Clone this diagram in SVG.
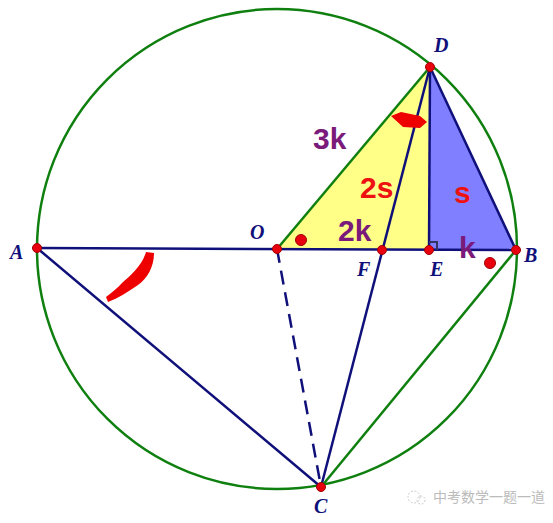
<svg xmlns="http://www.w3.org/2000/svg" width="553" height="523" viewBox="0 0 553 523">
<style>
.nv{stroke:#10107a;stroke-width:2.5;fill:none}
.gr{stroke:#0f800f;stroke-width:2.5;fill:none}
.pt{fill:#e8000e;stroke:#a00000;stroke-width:1}
.lbl{font-family:"Liberation Serif",serif;font-style:italic;font-weight:bold;font-size:20px;fill:#10107a}
.pk{font-family:"Liberation Sans",sans-serif;font-weight:bold;font-size:30px;fill:#7a1a7a}
.rs{font-family:"Liberation Sans",sans-serif;font-weight:bold;font-size:30px;fill:#ee1111}
</style>
<rect width="553" height="523" fill="#ffffff"/>
<g id="fills">
<polygon points="277,249 430,67 429,250" fill="#ffff88"/>
<polygon points="430,67 429,250 516,250" fill="#7f7fff"/>
</g>
<g id="circle"><circle cx="277" cy="249" r="240" class="gr"/></g>
<g id="connectors">
<line x1="37" y1="248" x2="516" y2="250" class="nv"/>
<line x1="277" y1="249" x2="430" y2="67" class="gr"/>
<line x1="430" y1="67" x2="516" y2="250" class="nv"/>
<line x1="430" y1="67" x2="429" y2="250" class="nv"/>
<line x1="430" y1="67" x2="321" y2="487" class="nv"/>
<line x1="37" y1="248" x2="321" y2="487" class="nv"/>
<line x1="277" y1="249" x2="321" y2="487" class="nv" stroke-dasharray="14,8"/>
<line x1="516" y1="250" x2="321" y2="487" class="gr"/>
<polyline points="429,242 437,242 437,250" stroke="#333366" stroke-width="2" fill="none"/>
</g>
<g id="marks">
<circle cx="301" cy="240" r="5.5" class="pt"/>
<circle cx="490" cy="263" r="5.5" class="pt"/>
<path d="M391,116 L401,112 L420,116 L427,122 L420,128 L403,127 Z" fill="#ee0000"/>
<path d="M146,252 L154,253 C154,266 148,278 138,285 C128,292 118,298 108,302 L106,297 C112,292 118,288 122,283 C130,276 142,266 146,252 Z" fill="#ee0000"/>
</g>
<g id="A"><circle cx="37" cy="248" r="4.5" class="pt"/><text x="10" y="259" class="lbl">A</text></g>
<g id="B"><circle cx="516" cy="250" r="4.5" class="pt"/><text x="524" y="262" class="lbl">B</text></g>
<g id="O"><circle cx="277" cy="249" r="4.5" class="pt"/><text x="250" y="239" class="lbl">O</text></g>
<g id="D"><circle cx="430" cy="67" r="4.5" class="pt"/><text x="434" y="52" class="lbl">D</text></g>
<g id="E"><circle cx="429" cy="250" r="4.5" class="pt"/><text x="430" y="276" class="lbl">E</text></g>
<g id="F"><circle cx="382" cy="250" r="4.5" class="pt"/><text x="357" y="276" class="lbl">F</text></g>
<g id="C"><circle cx="321" cy="487" r="4.5" class="pt"/><text x="314" y="513" class="lbl">C</text></g>
<g id="labels">
<text x="313" y="149" class="pk">3k</text>
<text x="360" y="198" class="rs">2s</text>
<text x="454" y="203" class="rs">s</text>
<text x="338" y="241" class="pk">2k</text>
<text x="459" y="258" class="pk">k</text>
</g>
<g id="watermark">
<circle cx="414" cy="497" r="6" fill="none" stroke="#cccccc" stroke-width="1" stroke-dasharray="2,1.5"/>
<circle cx="421" cy="500" r="4" fill="none" stroke="#cccccc" stroke-width="1" stroke-dasharray="2,1.5"/>
<text x="433" y="502" font-family="'Noto Sans CJK SC',sans-serif" font-size="14" fill="#bbbbbb">中考数学一题一道</text>
</g>
</svg>
